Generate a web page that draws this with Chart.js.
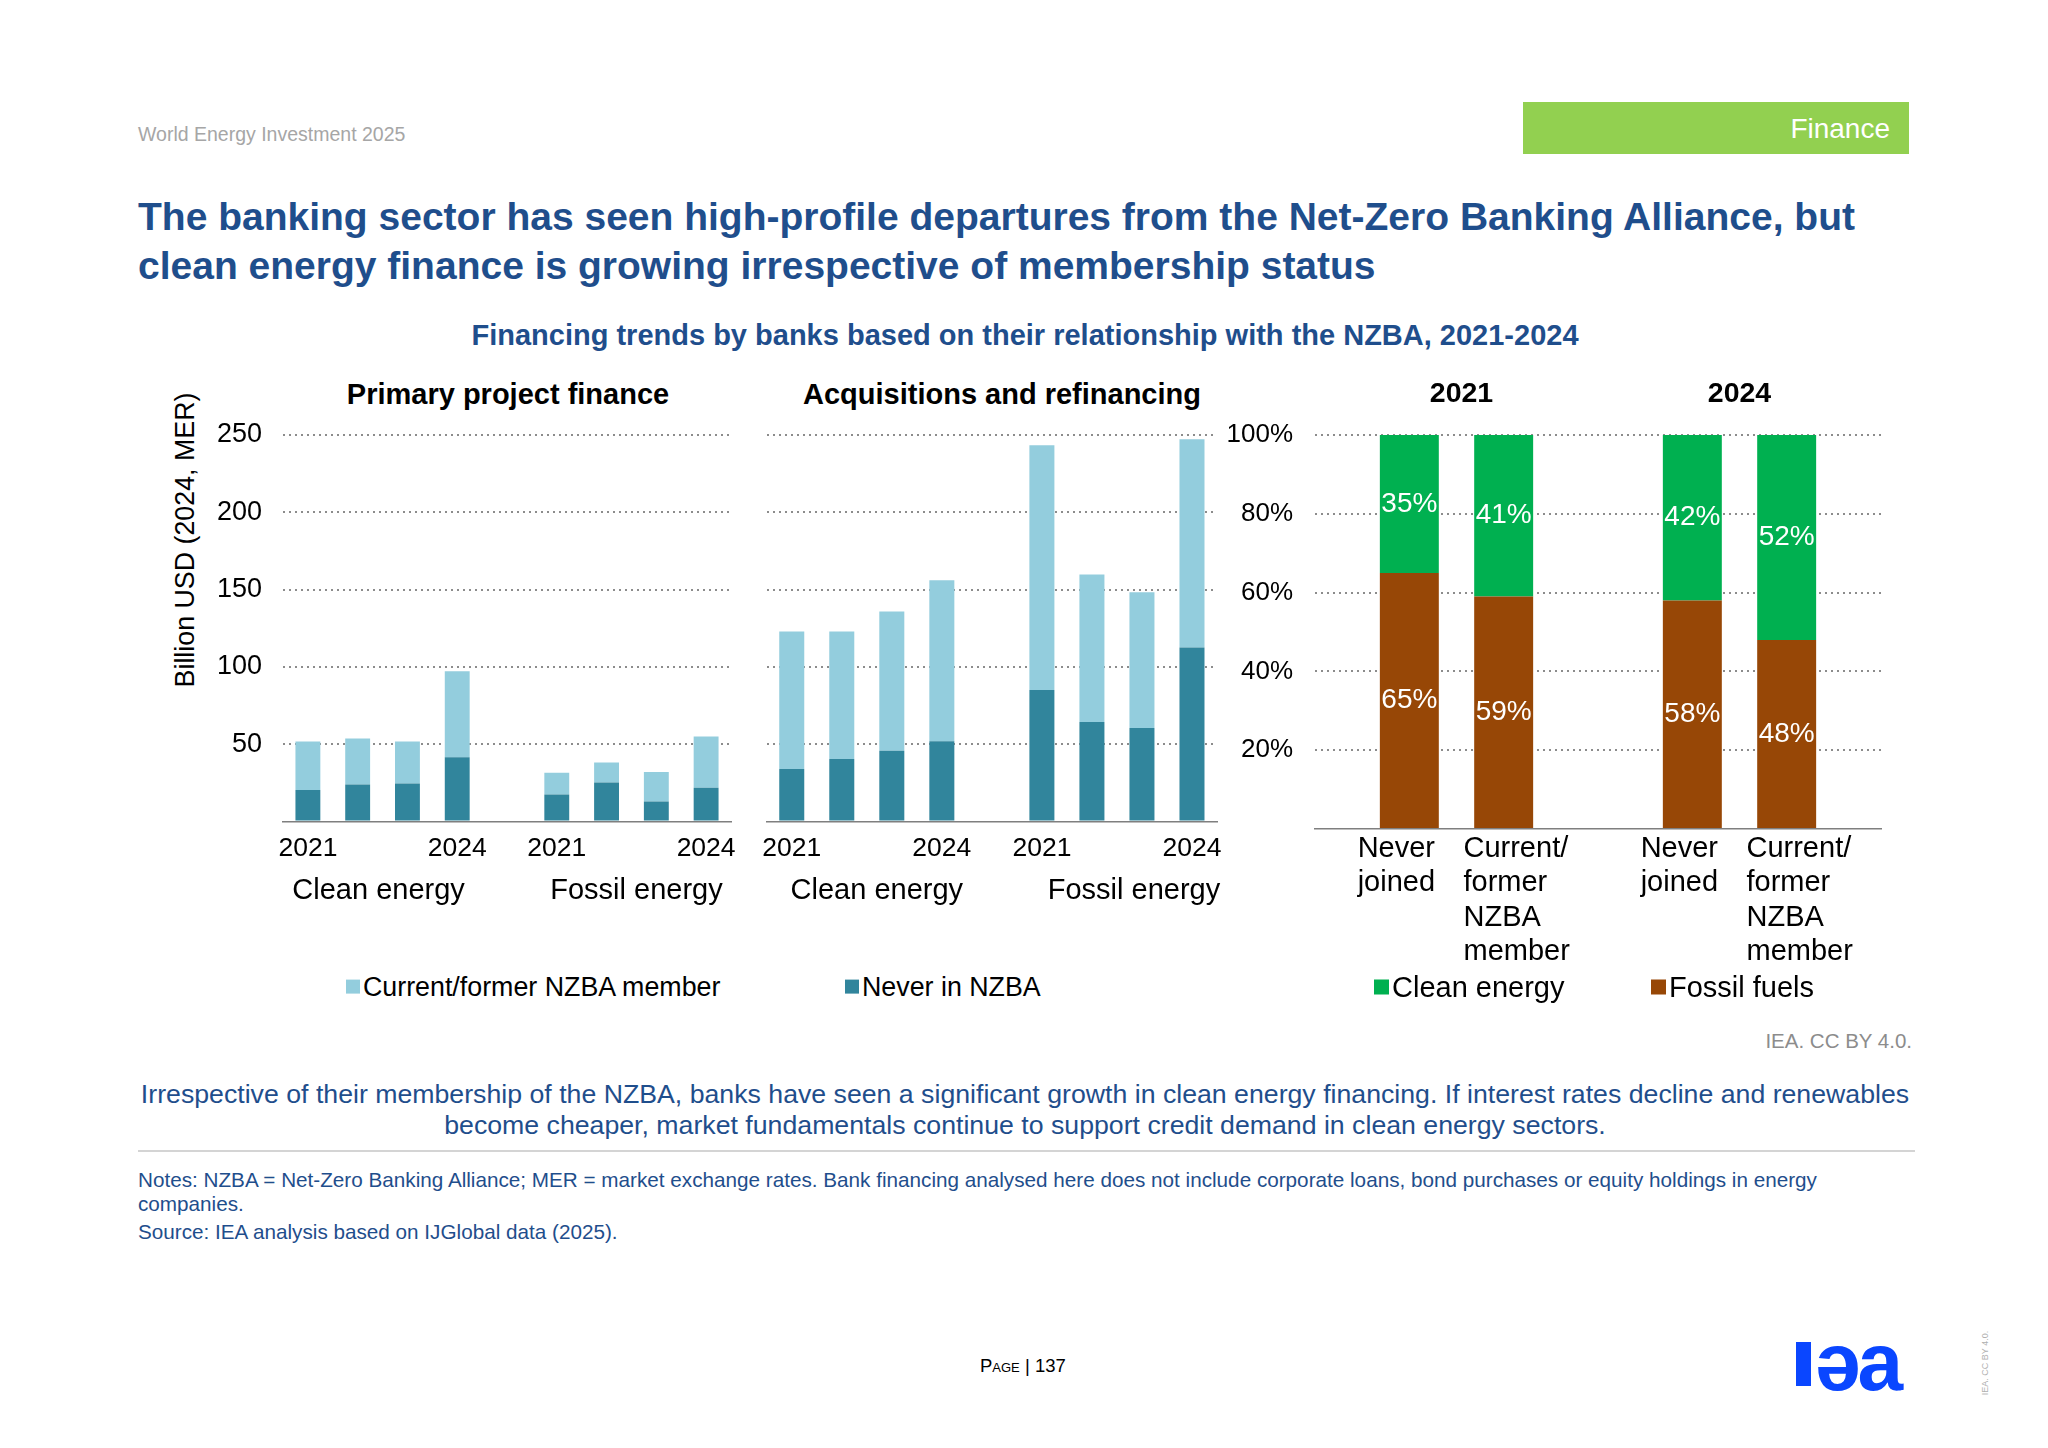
<!DOCTYPE html>
<html>
<head>
<meta charset="utf-8">
<script src="https://cdn.jsdelivr.net/npm/chart.js@4.4.1/dist/chart.umd.min.js"></script>
<style>
  html, body { margin: 0; padding: 0; background: #fff; }
  body { width: 2048px; height: 1448px; position: relative; overflow: hidden; font-family: "Liberation Sans", Arial, sans-serif; }
  .t { position: absolute; white-space: nowrap; line-height: 1; }
  canvas { position: absolute; }
  .sq { display: inline-block; vertical-align: middle; margin-right: 3px; position: relative; top: -2px; }
</style>
</head>
<body>
<div class="t" style="left:138px;top:135px;transform:translateY(-50%);font-size:19.5px;color:#a6a6a6">World Energy Investment 2025</div>
<div style="position:absolute;left:1523px;top:102px;width:386px;height:52px;background:#92d050"></div>
<div class="t" style="right:158px;top:129px;transform:translateY(-50%);font-size:28px;color:#fff">Finance</div>

<div class="t" style="left:138px;top:192px;font-size:39px;line-height:49px;font-weight:bold;color:#1f4e8c">The banking sector has seen high-profile departures from the Net-Zero Banking Alliance, but<br>clean energy finance is growing irrespective of membership status</div>
<div class="t" style="left:1025px;top:335px;transform:translate(-50%,-50%);font-size:29px;font-weight:bold;color:#1f4e8c">Financing trends by banks based on their relationship with the NZBA, 2021-2024</div>

<div class="t" style="left:508px;top:394px;transform:translate(-50%,-50%);font-size:29px;font-weight:bold;color:#000">Primary project finance</div>
<div class="t" style="left:1002px;top:394px;transform:translate(-50%,-50%);font-size:29px;font-weight:bold;color:#000">Acquisitions and refinancing</div>
<div class="t" style="left:185px;top:540px;transform:translate(-50%,-50%) rotate(-90deg);font-size:26.8px;color:#000">Billion USD (2024, MER)</div>

<canvas id="primary" width="600" height="590" style="left:150px;top:370px"></canvas>
<canvas id="acq" width="490" height="590" style="left:750px;top:370px"></canvas>
<canvas id="share" width="680" height="610" style="left:1222px;top:370px"></canvas>

<div id="legendLeft"></div>
<div id="legendRight"></div>

<div class="t" style="right:136px;top:1041px;transform:translateY(-50%);font-size:20.5px;color:#8c8c8c">IEA. CC BY 4.0.</div>

<div class="t" style="left:1025px;top:1079px;transform:translateX(-50%);text-align:center;font-size:26.7px;line-height:31px;color:#1f4e8c">Irrespective of their membership of the NZBA, banks have seen a significant growth in clean energy financing. If interest rates decline and renewables<br>become cheaper, market fundamentals continue to support credit demand in clean energy sectors.</div>
<div style="position:absolute;left:138px;top:1150px;width:1777px;height:2px;background:#d4d4d4"></div>
<div class="t" style="left:138px;top:1168px;font-size:20.7px;line-height:23.5px;color:#1f4e8c">Notes: NZBA = Net-Zero Banking Alliance; MER = market exchange rates. Bank financing analysed here does not include corporate loans, bond purchases or equity holdings in energy<br>companies.</div>
<div class="t" style="left:138px;top:1232px;transform:translateY(-50%);font-size:20.7px;color:#1f4e8c">Source: IEA analysis based on IJGlobal data (2025).</div>

<div class="t" style="left:980px;top:1366px;transform:translateY(-50%);font-size:18.5px;color:#000;font-variant:small-caps">Page | 137</div>
<div style="position:absolute;left:1796px;top:1342px;width:15px;height:44px;background:#0a46ff"></div>
<div class="t" style="left:1815px;top:1362px;transform:translateY(-50%);font-size:82px;font-weight:900;letter-spacing:-3px;color:#0a46ff">ǝa</div>
<div class="t" style="left:1985px;top:1363px;transform:translate(-50%,-50%) rotate(-90deg);font-size:9px;color:#b0b0b0">IEA. CC BY 4.0.</div>

<script>
const FONT = '"Liberation Sans", Arial, sans-serif';
Chart.defaults.font.family = FONT;
Chart.defaults.color = '#000';
Chart.defaults.animation = false;

// Left and middle panels: nine slots, the fifth one is the gap between groups
const yearLabels = ['2021', '', '', '2024', '', '2021', '', '', '2024'];
const groupNames = ['Clean energy', 'Fossil energy'];
const usdMax = 250;
const usdStep = 50;

const primaryNever = [20.3, 24.0, 24.5, 41.6, null, 17.5, 25.3, 13.0, 21.9];
const primaryMember = [31.4, 29.7, 27.2, 55.6, null, 14.1, 12.8, 19.0, 33.1];
const acqNever = [34.0, 40.5, 45.7, 51.9, null, 85.1, 64.3, 60.4, 112.6];
const acqMember = [88.9, 82.4, 90.2, 104.2, null, 158.2, 95.4, 87.9, 134.6];

const seriesNames = ['Never in NZBA', 'Current/former NZBA member'];
const DARK = '#31859c';
const LIGHT = '#93cddd';

// Right panel: shares by membership status
const shareCats = [
    [],
    ['Never', 'joined'],
    ['Current/', 'former', 'NZBA', 'member'],
    [],
    ['Never', 'joined'],
    ['Current/', 'former', 'NZBA', 'member'],
    [],
];
const shareYears = ['2021', '2024'];
const shareFossil = [null, 65, 59, null, 58, 48, null];
const shareClean = [null, 35, 41, null, 42, 52, null];
const shareNames = ['Clean energy', 'Fossil fuels'];
const GREEN = '#00b050';
const BROWN = '#974706';

const GRID = '#8c8c8c';

function groupLabels(shifts) {
    return {
        id: 'groupLabels',
        afterDraw(chart) {
            const x = chart.scales.x;
            const ctx = chart.ctx;
            ctx.save();
            ctx.font = '29px ' + FONT;
            ctx.fillStyle = '#000';
            ctx.textAlign = 'center';
            ctx.textBaseline = 'middle';
            groupNames.forEach((name, i) => {
                const from = i * 5;
                const cx = (x.getPixelForValue(from) + x.getPixelForValue(from + 3)) / 2 + shifts[i];
                ctx.fillText(name, cx, 521);
            });
            ctx.restore();
        },
    };
}

function usdChart(id, never, member, showAxis, shifts) {
    return new Chart(document.getElementById(id), {
        type: 'bar',
        data: {
            labels: yearLabels,
            datasets: [
                { label: seriesNames[0], data: never, backgroundColor: DARK },
                { label: seriesNames[1], data: member, backgroundColor: LIGHT },
            ],
        },
        options: {
            responsive: false,
            layout: { padding: showAxis ? { top: 65, right: 19, left: 0, bottom: 0 } : { top: 65, right: 23, left: 14, bottom: 0 } },
            datasets: { bar: { barPercentage: 0.5, categoryPercentage: 1 } },
            plugins: { legend: { display: false }, tooltip: { enabled: false } },
            scales: {
                x: {
                    stacked: true,
                    grid: { display: false, drawTicks: false },
                    border: { display: true, color: '#7f7f7f', width: 1.5 },
                    ticks: { autoSkip: false, maxRotation: 0, padding: 11.5, font: { size: 26.5 }, color: '#000' },
                    afterFit: (s) => { s.height = 138.5; },
                },
                y: {
                    stacked: true,
                    min: 0,
                    max: usdMax,
                    grid: {
                        drawTicks: false,
                        lineWidth: 2,
                        color: (c) => (c.tick && c.tick.value === 0 ? 'rgba(0,0,0,0)' : GRID),
                    },
                    border: { display: false, dash: [2, 4] },
                    ticks: {
                        display: showAxis,
                        stepSize: usdStep,
                        padding: 21,
                        font: { size: 27 },
                        color: '#000',
                        callback: (v) => (v === 0 ? '' : v),
                    },
                    afterFit: (s) => { s.width = showAxis ? 133 : 0; },
                },
            },
        },
        plugins: [groupLabels(shifts)],
    });
}

usdChart('primary', primaryNever, primaryMember, true, [-4, 5]);
usdChart('acq', acqNever, acqMember, false, [10, 17]);

const labelShift = [0, -13, 13, 0, -13, 13, 0];

const shareExtras = {
    id: 'shareExtras',
    afterDraw(chart) {
        const ctx = chart.ctx;
        const x = chart.scales.x;
        ctx.save();
        // values inside segments
        ctx.font = '28px ' + FONT;
        ctx.fillStyle = '#fff';
        ctx.textAlign = 'center';
        ctx.textBaseline = 'middle';
        chart.data.datasets.forEach((ds, di) => {
            chart.getDatasetMeta(di).data.forEach((bar, i) => {
                const v = ds.data[i];
                if (v === null) return;
                ctx.fillText(v + '%', bar.x, (bar.y + bar.base) / 2);
            });
        });
        // category labels, left aligned block under each bar
        ctx.font = '29px ' + FONT;
        ctx.fillStyle = '#000';
        ctx.textAlign = 'left';
        shareCats.forEach((lines, i) => {
            if (!lines.length) return;
            const w = Math.max(...lines.map((l) => ctx.measureText(l).width));
            const left = x.getPixelForValue(i) - w / 2 + labelShift[i];
            lines.forEach((l, j) => ctx.fillText(l, left, 479 + j * 34.3));
        });
        // year headers above each pair
        ctx.font = 'bold 28.5px ' + FONT;
        ctx.textAlign = 'center';
        shareYears.forEach((yr, k) => {
            const cx = (x.getPixelForValue(1 + k * 3) + x.getPixelForValue(2 + k * 3)) / 2;
            ctx.fillText(yr, cx + (k === 0 ? 5 : 0), 24);
        });
        ctx.restore();
    },
};

new Chart(document.getElementById('share'), {
    type: 'bar',
    data: {
        labels: shareCats.map((l) => l.join(' ')),
        datasets: [
            { label: shareNames[1], data: shareFossil, backgroundColor: BROWN },
            { label: shareNames[0], data: shareClean, backgroundColor: GREEN },
        ],
    },
    options: {
        responsive: false,
        layout: { padding: { top: 65, right: 21, left: 0, bottom: 0 } },
        datasets: { bar: { barPercentage: 0.625, categoryPercentage: 1 } },
        plugins: { legend: { display: false }, tooltip: { enabled: false } },
        scales: {
            x: {
                stacked: true,
                offset: false,
                grid: { display: false, drawTicks: false },
                border: { display: true, color: '#7f7f7f', width: 1.5 },
                ticks: { display: false },
                afterFit: (s) => { s.height = 151; },
            },
            y: {
                stacked: true,
                min: 0,
                max: 100,
                grid: {
                    drawTicks: false,
                    lineWidth: 2,
                    color: (c) => (c.tick && c.tick.value === 0 ? 'rgba(0,0,0,0)' : GRID),
                },
                border: { display: false, dash: [2, 4] },
                ticks: {
                    stepSize: 20,
                    padding: 22,
                    font: { size: 26 },
                    color: '#000',
                    callback: (v) => (v === 0 ? '' : v + '%'),
                },
                afterFit: (s) => { s.width = 93; },
            },
        },
    },
    plugins: [shareExtras],
});

// legends, built from the series names and colours
function legend(el, items, size, y, sq) {
    items.forEach(([name, color, left]) => {
        const d = document.createElement('div');
        d.className = 't';
        d.style.cssText = `left:${left}px;top:${y}px;transform:translateY(-50%);font-size:${size}px;color:#000`;
        d.innerHTML = `<span class="sq" style="width:${sq}px;height:${sq}px;background:${color}"></span>${name}`;
        el.appendChild(d);
    });
}
legend(document.getElementById('legendLeft'), [
    [seriesNames[1], LIGHT, 346],
    [seriesNames[0], DARK, 845],
], 26.8, 987, 14);
legend(document.getElementById('legendRight'), [
    [shareNames[0], GREEN, 1374],
    [shareNames[1], BROWN, 1651],
], 29, 987, 15);
</script>
</body>
</html>
